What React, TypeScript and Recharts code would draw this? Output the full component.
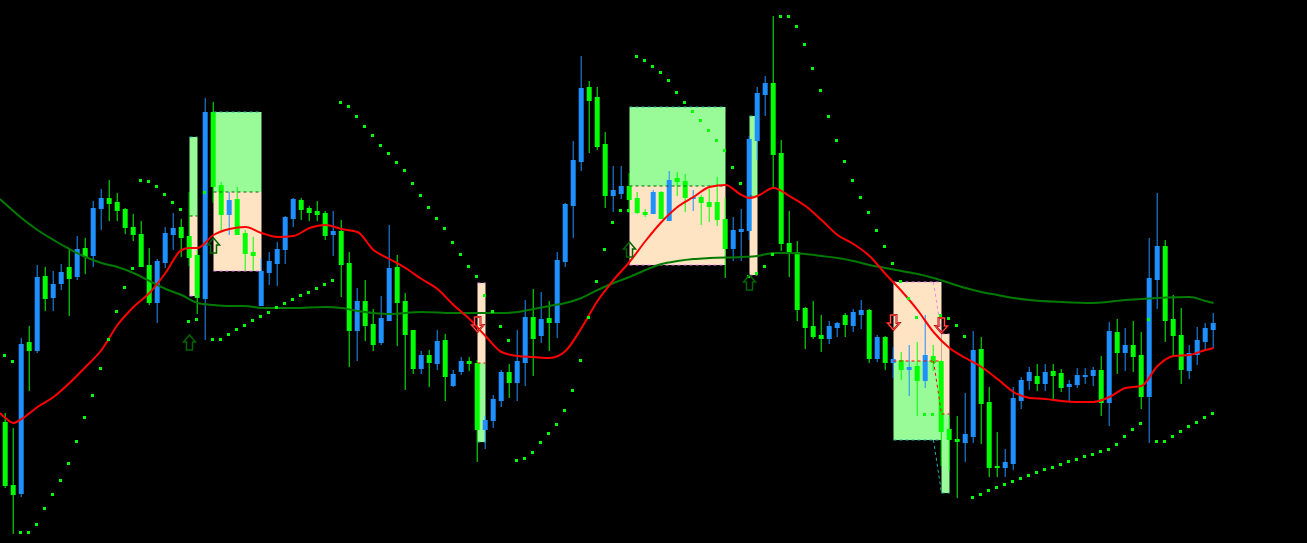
import React from 'react';
import { ComposedChart, XAxis, YAxis, Bar, Line, Scatter, ReferenceArea, ReferenceLine } from 'recharts';

// Levels are read straight off the screen (larger = lower on screen), so the y axis is reversed.
const opens = [
  422, 485, 493, 342, 350, 276, 297, 283, 267, 276, 248, 255, 208, 198, 202, 209, 227, 234, 265, 302,
  262, 234, 227, 236, 255, 298, 112, 185, 214, 199, 233, 252, 305, 272, 263, 249, 218, 200, 208, 211,
  213, 234, 231, 263, 330, 301, 324, 342, 320, 267, 301, 330, 368, 355, 363, 340, 385, 371, 361, 363,
  429, 420, 400, 372, 382, 362, 317, 335, 318, 322, 261, 205, 161, 87, 97, 144, 195, 193, 186, 198,
  212, 213, 192, 220, 178, 181, 198, 197, 202, 202, 219, 248, 231, 230, 140, 94, 83, 153, 243, 252,
  308, 326, 335, 338, 327, 315, 325, 314, 310, 358, 337, 362, 360, 369, 366, 380, 356, 361, 429, 439,
  442, 436, 349, 402, 466, 467, 463, 400, 380, 376, 383, 371, 373, 386, 384, 376, 375, 370, 402, 332,
  352, 345, 355, 396, 279, 246, 319, 335, 370, 354, 341, 329,
];
const highs = [
  413, 428, 338, 326, 265, 267, 271, 264, 248, 236, 238, 201, 189, 180, 193, 208, 214, 221, 248, 259,
  227, 213, 219, 192, 250, 98, 102, 182, 192, 187, 230, 237, 258, 252, 242, 216, 198, 198, 206, 201,
  211, 211, 220, 252, 288, 280, 309, 296, 225, 255, 293, 330, 351, 350, 330, 334, 370, 357, 357, 360,
  416, 395, 370, 364, 330, 300, 289, 292, 301, 252, 203, 141, 56, 81, 87, 132, 166, 166, 173, 192,
  209, 190, 191, 171, 172, 174, 190, 195, 189, 177, 198, 217, 209, 136, 87, 76, 16, 140, 211, 241,
  307, 301, 315, 321, 322, 313, 309, 300, 309, 335, 336, 347, 352, 345, 342, 315, 345, 360, 417, 416,
  393, 331, 337, 387, 432, 449, 387, 377, 367, 364, 364, 364, 369, 380, 368, 368, 367, 356, 322, 319,
  328, 321, 332, 238, 193, 240, 295, 308, 345, 327, 323, 313,
];
const lows = [
  487, 533, 496, 390, 352, 310, 310, 289, 315, 279, 273, 266, 229, 220, 220, 233, 240, 266, 304, 322,
  267, 249, 256, 265, 313, 339, 202, 230, 234, 234, 270, 270, 305, 284, 285, 263, 226, 219, 220, 220,
  239, 255, 296, 366, 360, 340, 350, 344, 320, 345, 389, 373, 373, 386, 369, 400, 386, 374, 370, 461,
  448, 427, 406, 397, 400, 385, 375, 342, 350, 337, 266, 237, 170, 152, 149, 207, 211, 198, 212, 213,
  216, 213, 218, 220, 195, 211, 210, 224, 221, 225, 277, 260, 260, 239, 159, 115, 187, 250, 276, 320,
  348, 338, 351, 343, 336, 336, 331, 328, 362, 361, 369, 377, 379, 395, 415, 387, 370, 465, 470, 497,
  461, 442, 443, 476, 476, 476, 469, 408, 389, 390, 390, 398, 391, 401, 387, 383, 385, 415, 425, 373,
  370, 371, 408, 442, 308, 341, 355, 383, 378, 364, 349, 347,
];
const closes = [
  485, 494, 344, 350, 277, 298, 284, 272, 278, 249, 256, 208, 198, 203, 210, 227, 234, 266, 302, 261,
  233, 228, 237, 257, 297, 112, 186, 214, 200, 234, 253, 255, 271, 261, 249, 217, 199, 209, 212, 214,
  235, 231, 264, 330, 301, 325, 344, 318, 268, 302, 334, 368, 355, 362, 341, 376, 374, 361, 363, 429,
  420, 399, 372, 382, 361, 317, 338, 319, 322, 260, 204, 160, 88, 100, 146, 195, 190, 186, 199, 212,
  214, 192, 218, 180, 181, 197, 197, 202, 206, 219, 248, 230, 229, 139, 93, 83, 154, 243, 252, 309,
  327, 336, 338, 326, 323, 324, 312, 310, 358, 337, 362, 359, 369, 367, 380, 355, 362, 431, 439, 441,
  434, 350, 403, 467, 467, 462, 398, 380, 372, 383, 372, 375, 387, 384, 375, 375, 370, 402, 331, 352,
  345, 356, 396, 278, 246, 320, 335, 369, 353, 340, 328, 323,
];

// parabolic SAR, one dot per bar
const sar = [
  355, 361, 532, 532, 524, 508, 494, 480, 463, 441, 417, 395, 368, 339, 311, 287, 268, 180, 181, 186,
  194, 202, 209, 321, 319, 192, 339, 339, 334, 329, 325, 320, 316, 312, 307, 303, 299, 295, 292, 288,
  284, 280, 102, 106, 116, 126, 135, 145, 153, 162, 170, 183, 195, 207, 218, 228, 242, 254, 266, 276,
  295, 311, 326, 340, 460, 458, 452, 442, 433, 424, 410, 390, 360, 317, 281, 249, 222, 210, 210, 56,
  60, 66, 72, 80, 92, 102, 111, 120, 130, 140, 150, 167, 183, 276, 273, 266, 254, 16, 16, 26,
  44, 68, 90, 116, 140, 161, 180, 197, 212, 230, 246, 263, 281, 298, 317, 414, 414, 315, 318, 325,
  336, 497, 494, 490, 487, 484, 481, 478, 475, 472, 469, 467, 464, 461, 459, 456, 454, 451, 449, 444,
  436, 429, 423, 319, 441, 441, 436, 431, 426, 422, 417, 413,
];

// [bar, level]; the first point sits on the left edge of the window
const maFast = [
  [-0.7, 413], [0, 418], [1, 423], [2, 419], [4, 407], [6, 397], [8, 383], [10, 367], [12, 350], [14, 325], [16, 307],
  [18, 293], [20, 273], [22, 250], [23, 248], [24, 248], [26, 235], [28, 229], [30, 227], [32, 233], [34, 237],
  [36, 236], [38, 228], [40, 225], [42, 229], [44, 232], [46, 250], [48, 259], [50, 268], [52, 279], [54, 289],
  [56, 305], [58, 319], [60, 336], [62, 352], [64, 356], [66, 357], [68, 358], [70, 351], [72, 328], [74, 301],
  [76, 280], [78, 262], [80, 241], [82, 222], [84, 207], [86, 197], [88, 187], [90, 185], [92, 195], [93, 198],
  [94, 196], [96, 188], [98, 196], [100, 206], [102, 220], [104, 235], [106, 244], [108, 256], [110, 274], [112, 291],
  [114, 310], [116, 332], [118, 348], [120, 358], [122, 367], [124, 379], [126, 392], [128, 398], [130, 399], [132, 401],
  [134, 402], [136, 402], [138, 397], [140, 388], [142, 386], [144, 366], [146, 356], [148, 355], [150, 350], [151, 348],
];
const maSlow = [
  [-0.7, 199], [0, 204], [2, 218], [4, 230], [6, 240], [8, 249], [10, 257], [12, 263], [14, 267], [16, 273], [18, 281],
  [20, 289], [22, 295], [24, 303], [26, 305], [28, 306], [30, 306], [32, 308], [36, 308], [40, 307], [42, 308],
  [44, 311], [46, 313], [48, 314], [52, 312], [56, 313], [60, 313], [62, 313], [64, 312], [66, 309], [68, 306],
  [70, 303], [72, 298], [74, 290], [76, 283], [78, 277], [80, 270], [82, 264], [84, 261], [86, 259], [88, 258],
  [92, 257], [94, 256], [96, 253], [98, 253], [100, 254], [102, 256], [104, 258], [106, 261], [108, 265], [110, 268],
  [112, 271], [114, 274], [116, 278], [118, 283], [120, 288], [122, 292], [124, 295], [126, 298], [128, 300], [132, 302],
  [136, 303], [140, 300], [144, 298], [148, 297], [150, 301], [151, 303],
];

const upSignals = [[23, 335], [26, 238], [78, 242], [93, 275]];
const downSignals = [[59, 317], [111, 315], [117, 318]];

// trade boxes: take-profit / entry / stop-loss levels
const zones = [
  { from: 23, to: 24, tp: 137, entry: 216, sl: 296, side: 'buy' },
  { from: 26, to: 32, tp: 112, entry: 192, sl: 271, side: 'buy' },
  { from: 59, to: 60, tp: 442, entry: 363, sl: 283, side: 'sell' },
  { from: 78, to: 90, tp: 107, entry: 186, sl: 265, side: 'buy' },
  { from: 93, to: 94, tp: 116, entry: 196, sl: 275, side: 'buy' },
  { from: 111, to: 117, tp: 440, entry: 361, sl: 282, side: 'sell' },
  { from: 117, to: 118, tp: 493, entry: 414, sl: 334, side: 'sell' },
];
const links = [
  { a: [116, 282], b: [117, 334], color: '#ee82ee' },
  { a: [116, 361], b: [117, 414], color: '#ff0000' },
  { a: [116, 440], b: [117, 493], color: '#20b2aa' },
];

const candles = opens.map((o, i) => ({ i, o, h: highs[i], l: lows[i], c: closes[i], range: [highs[i], lows[i]] }));
const sarData = sar.map((v, i) => ({ i, v }));
const fastData = maFast.map(([i, v]) => ({ i, v }));
const slowData = maSlow.map(([i, v]) => ({ i, v }));
const upData = upSignals.map(([i, v]) => ({ i, v }));
const downData = downSignals.map(([i, v]) => ({ i, v }));

const UP = '#1e90ff';
const DOWN = '#00ff00';

const CandleShape = (props: any) => {
  const { x, y, width, height, payload } = props;
  if (x == null || y == null || !payload) return null;
  const top = Math.min(y, y + height);
  const span = Math.abs(height);
  const { o, h, l, c } = payload;
  const k = l > h ? span / (l - h) : 0;
  const py = (v: number) => top + (v - h) * k;
  const color = c < o ? UP : DOWN;
  const cx = x + width / 2;
  const bTop = py(Math.min(o, c));
  const bBot = py(Math.max(o, c));
  return (
    <g>
      <rect x={cx - 0.5} y={top} width={1} height={span + 1} fill={color} />
      <rect x={x} y={bTop} width={width} height={Math.max(bBot - bTop, 0) + 1} fill={color} />
    </g>
  );
};

const Dot = (props: any) => {
  const { cx, cy } = props;
  if (cx == null || cy == null) return null;
  return <rect x={cx - 2.5} y={cy - 1} width={3} height={3} fill="#00ff00" />;
};

const UpArrow = (props: any) => {
  const { cx, cy } = props;
  if (cx == null || cy == null) return null;
  const d = `M${cx},${cy} L${cx + 6},${cy + 7} L${cx + 3},${cy + 7} L${cx + 3},${cy + 15} L${cx - 3},${cy + 15} L${cx - 3},${cy + 7} L${cx - 6},${cy + 7} Z`;
  return <path d={d} fill="none" stroke="#006400" strokeWidth={1.5} />;
};

const DownArrow = (props: any) => {
  const { cx, cy } = props;
  if (cx == null || cy == null) return null;
  const d = `M${cx - 3},${cy} L${cx + 3},${cy} L${cx + 3},${cy + 8} L${cx + 6},${cy + 8} L${cx},${cy + 15} L${cx - 6},${cy + 8} L${cx - 3},${cy + 8} Z`;
  return (
    <g>
      <path d={d} fill="none" stroke="#c00000" strokeWidth={2} />
      <path d={d} fill="none" stroke="#ff9a9a" strokeWidth={0.6} />
    </g>
  );
};

export default function App() {
  return (
    <div style={{ position: 'absolute', left: 0, top: 0, width: 1307, height: 543, background: '#000' }}>
      <ComposedChart width={1307} height={543} data={candles} margin={{ top: 0, right: 0, bottom: 0, left: 0 }}>
        <XAxis type="number" dataKey="i" domain={[-0.6875, 162.6875]} allowDataOverflow hide />
        <YAxis type="number" domain={[0, 543]} reversed allowDataOverflow hide />

        {zones.map((z, k) => (
          <ReferenceArea key={`g${k}`} x1={z.from} x2={z.to} y1={z.tp} y2={z.entry} fill="#98fb98" fillOpacity={1} stroke="none" />
        ))}
        {zones.map((z, k) => (
          <ReferenceArea key={`p${k}`} x1={z.from} x2={z.to} y1={z.entry} y2={z.sl} fill="#ffe4c4" fillOpacity={1} stroke="none" />
        ))}
        {zones.map((z, k) => (
          <ReferenceLine key={`t${k}`} segment={[{ x: z.from, y: z.tp }, { x: z.to, y: z.tp }]} stroke="#20b2aa" strokeDasharray="3 3" />
        ))}
        {zones.map((z, k) => (
          <ReferenceLine key={`e${k}`} segment={[{ x: z.from, y: z.entry }, { x: z.to, y: z.entry }]}
            stroke={z.side === 'buy' ? '#006400' : '#ff0000'} strokeDasharray="3 3" />
        ))}
        {zones.map((z, k) => (
          <ReferenceLine key={`s${k}`} segment={[{ x: z.from, y: z.sl }, { x: z.to, y: z.sl }]} stroke="#ee82ee" strokeDasharray="3 3" />
        ))}
        {links.map((s, k) => (
          <ReferenceLine key={`l${k}`} segment={[{ x: s.a[0], y: s.a[1] }, { x: s.b[0], y: s.b[1] }]} stroke={s.color} strokeDasharray="3 3" />
        ))}

        <Bar dataKey="range" barSize={5} shape={<CandleShape />} isAnimationActive={false} />
        <Line data={slowData} dataKey="v" type="monotone" stroke="#007a00" strokeWidth={2} dot={false} activeDot={false} isAnimationActive={false} />
        <Line data={fastData} dataKey="v" type="monotone" stroke="#ff0000" strokeWidth={2} dot={false} activeDot={false} isAnimationActive={false} />
        <Scatter data={sarData} dataKey="v" shape={<Dot />} isAnimationActive={false} />
        <Scatter data={upData} dataKey="v" shape={<UpArrow />} isAnimationActive={false} />
        <Scatter data={downData} dataKey="v" shape={<DownArrow />} isAnimationActive={false} />
      </ComposedChart>
    </div>
  );
}
